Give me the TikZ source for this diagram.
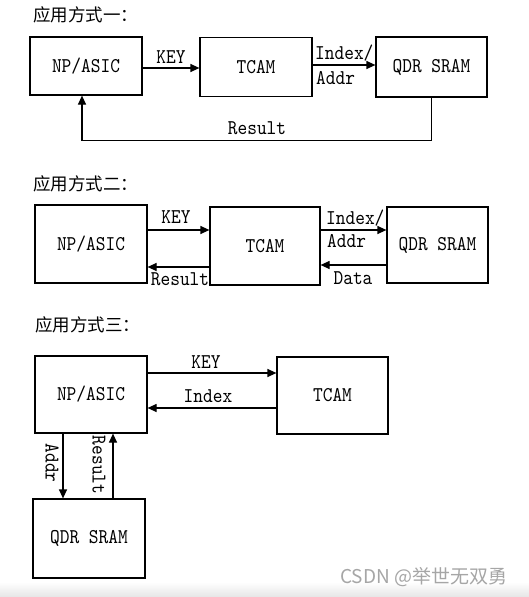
\documentclass[tikz,border=0pt]{standalone}
\usepackage{fontspec}
\usetikzlibrary{arrows.meta,calc}
\newfontfamily\lblfont{lmmono10-regular.otf}[FakeStretch=0.88]
\newfontfamily\cjkfont{Noto Sans CJK SC}
\tikzset{
  box/.style={draw, line width=1.2pt, inner sep=0pt, font=\lblfont\fontsize{21}{21}\selectfont},
  lbl/.style={inner sep=0pt, font=\lblfont\fontsize{21}{21}\selectfont},
  ttl/.style={inner sep=0pt, anchor=west, font=\cjkfont\fontsize{17.5}{17.5}\selectfont},
  arr/.style={line width=1.2pt, -{Triangle[length=9pt,width=8pt]}},
  wm/.style={inner sep=0pt, anchor=west, text=black!35, font=\cjkfont\fontsize{19}{19}\selectfont}
}
\begin{document}
\begin{tikzpicture}[x=1pt,y=-1pt]
\useasboundingbox (0,0) rectangle (529,597);
\fill[white] (0,0) rectangle (529,597);
\shade[top color=white, bottom color=black!10] (0,582) rectangle (529,597);

% ---------- Section 1 ----------
\node[ttl] (t1) at (33,15) {应用方式一：};
\node[box, minimum width=112pt, minimum height=58pt] (np1) at (86,66) {NP/ASIC};
\node[box, minimum width=112pt, minimum height=59pt] (tcam1) at (256,67) {TCAM};
\node[box, minimum width=111pt, minimum height=60pt] (qdr1) at (431.5,67) {QDR SRAM};
\draw[arr] ([yshift=-2pt]np1.east) -- ([yshift=-2pt]np1.east -| tcam1.west);
\node[lbl] (k1) at (171,57) {KEY};
\draw[arr] ([yshift=2pt]tcam1.east) -- ([yshift=2pt]tcam1.east -| qdr1.west);
\node[lbl, anchor=west] (i1) at (315,53) {Index/};
\node[lbl, anchor=west] (a1) at (316,78) {Addr};
\draw[arr] (qdr1.south) -- ++(0,43) -| ([xshift=-4pt]np1.south);
\node[lbl] (r1) at (257,128) {Result};

% ---------- Section 2 ----------
\node[ttl] (t2) at (33,184) {应用方式二：};
\node[box, minimum width=112pt, minimum height=78pt] (np2) at (91,244) {NP/ASIC};
\node[box, minimum width=110pt, minimum height=78pt] (tcam2) at (265,246) {TCAM};
\node[box, minimum width=101pt, minimum height=76pt] (qdr2) at (437.5,245) {QDR SRAM};
\draw[arr] ([yshift=14pt]np2.east) -- ([yshift=14pt]np2.east -| tcam2.west);
\node[lbl] (k2) at (176,217) {KEY};
\draw[arr] ([yshift=-23pt]np2.east -| tcam2.west) -- ([yshift=-23pt]np2.east);
\node[lbl] (r2) at (180,279) {Result};
\draw[arr] ([yshift=16pt]tcam2.east) -- ([yshift=16pt]tcam2.east -| qdr2.west);
\node[lbl, anchor=west] (i2) at (326,218) {Index/};
\node[lbl, anchor=west] (a2) at (327,241) {Addr};
\draw[arr] ([yshift=-20pt]qdr2.west) -- ([yshift=-20pt]qdr2.west -| tcam2.east);
\node[lbl] (d2) at (353,278) {Data};

% ---------- Section 3 ----------
\node[ttl] (t3) at (35,325) {应用方式三：};
\node[box, minimum width=112pt, minimum height=77pt] (np3) at (91,394.5) {NP/ASIC};
\node[box, minimum width=111pt, minimum height=77pt] (tcam3) at (332.5,395.5) {TCAM};
\node[box, minimum width=112pt, minimum height=79pt] (qdr3) at (89,538.5) {QDR SRAM};
\draw[arr] ([yshift=21.5pt]np3.east) -- ([yshift=21.5pt]np3.east -| tcam3.west);
\node[lbl] (k3) at (206,362) {KEY};
\draw[arr] ([yshift=-13.5pt]np3.east -| tcam3.west) -- ([yshift=-13.5pt]np3.east);
\node[lbl] (i3) at (208,396) {Index};
\draw[arr] ([xshift=-28pt]np3.south) -- ([xshift=-28pt]np3.south |- qdr3.north);
\node[lbl, rotate=-90] (a3) at (52,463) {Addr};
\draw[arr] ([xshift=22pt]np3.south |- qdr3.north) -- ([xshift=22pt]np3.south);
\node[lbl, rotate=-90] (r3) at (99,465) {Result};

% ---------- watermark ----------
\node[wm] (w) at (340,577) {CSDN @举世无双勇};
\end{tikzpicture}
\end{document}
